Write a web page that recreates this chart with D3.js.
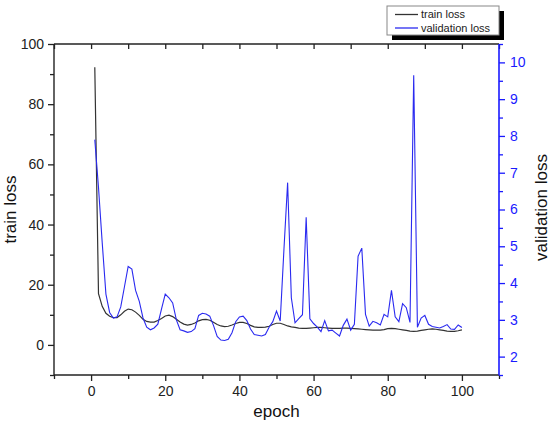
<!DOCTYPE html>
<html>
<head>
<meta charset="utf-8">
<script src="https://d3js.org/d3.v7.min.js"></script>
<style>
  body { margin: 0; background: #fff; }
  svg { font-family: "Liberation Sans", Arial, sans-serif; }
</style>
</head>
<body>
<svg width="550" height="427"></svg>
<script>

// epochs 1..100
var epochs = d3.range(1, 101);

var trainLoss = [
    92.3, 17.0, 12.8, 10.5, 9.5, 9.1, 9.1, 10.0, 11.2, 11.9,
    11.7, 10.9, 9.8, 8.5, 7.8, 7.6, 7.6, 8.1, 8.8, 9.6,
    9.9, 9.4, 8.5, 7.6, 6.9, 6.6, 6.8, 7.3, 8.0, 8.4,
    8.5, 8.2, 7.5, 6.8, 6.3, 6.1, 6.2, 6.6, 7.1, 7.5,
    7.5, 7.1, 6.5, 6.0, 5.8, 5.8, 5.9, 6.2, 6.8, 7.2,
    7.2, 6.8, 6.3, 6.0, 5.8, 5.6, 5.5, 5.5, 5.6, 5.7,
    5.8, 5.8, 5.7, 5.6, 5.5, 5.5, 5.5, 5.6, 5.6, 5.5,
    5.4, 5.3, 5.2, 5.1, 5.0, 4.9, 4.9, 4.9, 5.1, 5.4,
    5.5, 5.4, 5.2, 5.0, 4.8, 4.6, 4.5, 4.6, 4.8, 5.0,
    5.2, 5.3, 5.2, 5.0, 4.8, 4.6, 4.5, 4.5, 4.7, 5.0
];

var valLoss = [
    7.9, 6.6, 5.1, 3.7, 3.2, 3.05, 3.08, 3.35, 3.9, 4.45,
    4.38, 3.8, 3.5, 3.05, 2.8, 2.73, 2.78, 2.88, 3.3, 3.7,
    3.6, 3.46, 3.0, 2.73, 2.7, 2.66, 2.68, 2.76, 3.12, 3.18,
    3.16, 3.1, 2.85, 2.55, 2.45, 2.44, 2.47, 2.65, 2.95, 3.08,
    3.1, 2.98, 2.75, 2.6, 2.58, 2.56, 2.6, 2.8, 2.95, 3.24,
    2.97, 4.9, 6.73, 3.6, 2.92, 3.03, 3.14, 5.79, 3.03, 2.9,
    2.8, 2.68, 2.98, 2.7, 2.72, 2.64, 2.56, 2.85, 3.02, 2.72,
    2.88, 4.73, 4.95, 3.15, 2.83, 2.96, 2.92, 2.86, 3.15, 3.08,
    3.8, 3.08, 2.95, 3.44, 3.33, 2.93, 9.65, 2.8, 3.05, 3.12,
    2.88, 2.82, 2.8, 2.78, 2.82, 2.87, 2.75, 2.74, 2.86, 2.79
];

var xTicks = [0, 20, 40, 60, 80, 100];
var xMinor = [-10, 10, 30, 50, 70, 90, 110];
var trainTicks = [0, 20, 40, 60, 80, 100];
var trainMinor = [-10, 10, 30, 50, 70, 90];
var valTicks = [2, 3, 4, 5, 6, 7, 8, 9, 10];
var valMinor = [1.5, 2.5, 3.5, 4.5, 5.5, 6.5, 7.5, 8.5, 9.5, 10.5];

var seriesNames = ["train loss", "validation loss"];
var trainColor = "#333",
    valColor = "#2a2af0",
    axisBlue = "#1a1aff";

var svg = d3.select("svg"),
    margin = {top: 44, right: 51, bottom: 52, left: 54},
    width = +svg.attr("width") - margin.left - margin.right,
    height = +svg.attr("height") - margin.top - margin.bottom;

var x = d3.scaleLinear().domain([-10, 110]).range([0, width]),
    yL = d3.scaleLinear().domain([-10, 100]).range([height, 0]),
    yR = d3.scaleLinear().domain([1.5, 10.5]).range([height, 0]);

var g = svg.append("g")
    .attr("transform", "translate(" + margin.left + "," + margin.top + ")");

function styleAxis(sel, color) {
    sel.select(".domain").remove();
    sel.selectAll("line").attr("stroke", color).attr("stroke-width", 1.3);
    sel.selectAll("text")
        .attr("fill", color)
        .attr("font-size", "14px")
        .attr("font-family", "Liberation Sans, Arial, sans-serif");
}

// bottom axis
g.append("g")
    .attr("transform", "translate(0," + height + ")")
    .call(d3.axisBottom(x).tickValues(xTicks).tickSize(6).tickPadding(5).tickFormat(d3.format("d")))
    .call(styleAxis, "#222");
g.append("g")
    .attr("transform", "translate(0," + height + ")")
    .call(d3.axisBottom(x).tickValues(xMinor).tickSize(4).tickFormat(""))
    .call(styleAxis, "#222");

// top axis, ticks inward
g.append("g")
    .call(d3.axisBottom(x).tickValues(xTicks.concat(xMinor)).tickSize(5).tickFormat(""))
    .call(styleAxis, "#222");

// left axis
g.append("g")
    .call(d3.axisLeft(yL).tickValues(trainTicks).tickSize(6).tickPadding(4).tickFormat(d3.format("d")))
    .call(styleAxis, "#222");
g.append("g")
    .call(d3.axisLeft(yL).tickValues(trainMinor).tickSize(4).tickFormat(""))
    .call(styleAxis, "#222");

// right axis
g.append("g")
    .attr("transform", "translate(" + width + ",0)")
    .call(d3.axisRight(yR).tickValues(valTicks).tickSize(6).tickPadding(5).tickFormat(d3.format("d")))
    .call(styleAxis, axisBlue);
g.append("g")
    .attr("transform", "translate(" + width + ",0)")
    .call(d3.axisRight(yR).tickValues(valMinor).tickSize(4).tickFormat(""))
    .call(styleAxis, axisBlue);

// frame lines
g.append("line").attr("x1", 0).attr("x2", width).attr("y1", height).attr("y2", height)
    .attr("stroke", "#222").attr("stroke-width", 1.4);
g.append("line").attr("x1", 0).attr("x2", width).attr("y1", 0).attr("y2", 0)
    .attr("stroke", "#222").attr("stroke-width", 1.4);
g.append("line").attr("x1", 0).attr("x2", 0).attr("y1", 0).attr("y2", height)
    .attr("stroke", "#222").attr("stroke-width", 1.4);
g.append("line").attr("x1", width).attr("x2", width).attr("y1", 0).attr("y2", height)
    .attr("stroke", axisBlue).attr("stroke-width", 1.6);

// lines
var lineTrain = d3.line()
    .x(function(d, i) { return x(epochs[i]); })
    .y(function(d) { return yL(d); });
var lineVal = d3.line()
    .x(function(d, i) { return x(epochs[i]); })
    .y(function(d) { return yR(d); });

g.append("path")
    .datum(trainLoss)
    .attr("fill", "none")
    .attr("stroke", trainColor)
    .attr("stroke-width", 1.2)
    .attr("d", lineTrain);

g.append("path")
    .datum(valLoss)
    .attr("fill", "none")
    .attr("stroke", valColor)
    .attr("stroke-width", 1.1)
    .attr("d", lineVal);

// axis titles
svg.append("text")
    .attr("x", margin.left + width / 2)
    .attr("y", 417)
    .attr("text-anchor", "middle")
    .attr("font-size", "17px")
    .attr("fill", "#111")
    .text("epoch");

svg.append("text")
    .attr("transform", "translate(16," + (margin.top + height / 2) + ") rotate(-90)")
    .attr("text-anchor", "middle")
    .attr("font-size", "17px")
    .attr("fill", "#111")
    .text("train loss");

svg.append("text")
    .attr("transform", "translate(547," + (margin.top + height / 2 - 2) + ") rotate(-90)")
    .attr("text-anchor", "middle")
    .attr("font-size", "17px")
    .attr("fill", "#111")
    .text("validation loss");

// legend
var legend = svg.append("g").attr("transform", "translate(387,6)");
legend.append("rect")
    .attr("x", 5).attr("y", 5).attr("width", 112).attr("height", 29)
    .attr("fill", "#000");
legend.append("rect")
    .attr("x", 0).attr("y", 0).attr("width", 112).attr("height", 29)
    .attr("fill", "#fff").attr("stroke", "#888").attr("stroke-width", 1);

var legendItems = [
    {name: seriesNames[0], color: trainColor},
    {name: seriesNames[1], color: valColor}
];
var items = legend.selectAll(".item")
    .data(legendItems)
    .enter().append("g")
    .attr("class", "item")
    .attr("transform", function(d, i) { return "translate(0," + (8.5 + i * 13.5) + ")"; });
items.append("line")
    .attr("x1", 8).attr("x2", 31)
    .attr("y1", 0).attr("y2", 0)
    .style("stroke", function(d) { return d.color; })
    .style("stroke-width", 1.3);
items.append("text")
    .attr("x", 34).attr("dy", "0.35em")
    .attr("font-size", "11px")
    .attr("fill", "#222")
    .text(function(d) { return d.name; });

</script>
</body>
</html>
